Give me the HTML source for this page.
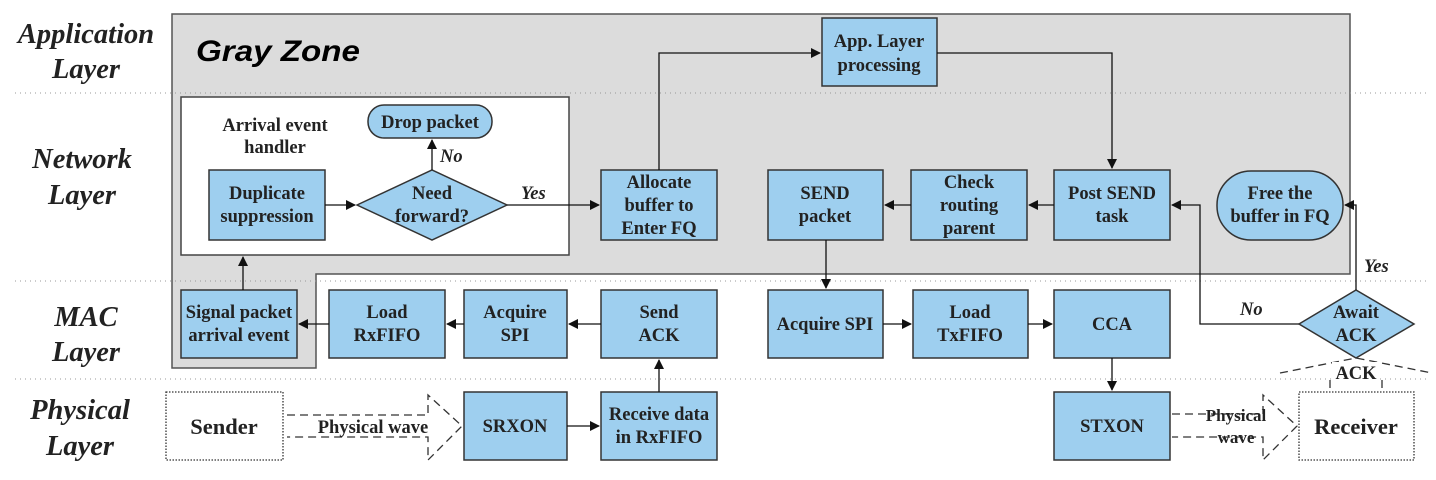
<!DOCTYPE html>
<html><head><meta charset="utf-8"><style>
html,body{margin:0;padding:0;background:#fff}
svg{display:block}
text{font-family:"Liberation Serif",serif;font-weight:bold;fill:#222}
.b{fill:#9ecfef;stroke:#333;stroke-width:1.5}
.l{stroke:#111;stroke-width:1.3;fill:none}
.d{stroke:#333;stroke-width:1.3;fill:none;stroke-dasharray:8 5}
.dot{stroke:#999;stroke-width:1;stroke-dasharray:1 4}
.lay{font-style:italic;font-size:28.5px;font-weight:bold}
.t{font-size:18.5px}
</style></head><body>
<svg width="1436" height="480" viewBox="0 0 1436 480" xmlns="http://www.w3.org/2000/svg">
<defs><marker id="a" markerWidth="10" markerHeight="10" refX="9" refY="5" orient="auto" markerUnits="userSpaceOnUse"><path d="M0,0 L10,5 L0,10 z" fill="#111"/></marker></defs>
<path d="M172,14 H1350 V274 H316 V368 H172 Z" fill="#dcdcdc" stroke="#555" stroke-width="1.5"/>
<line class="dot" x1="15" y1="93" x2="1430" y2="93"/>
<line class="dot" x1="15" y1="281" x2="1430" y2="281"/>
<line class="dot" x1="15" y1="379" x2="1430" y2="379"/>
<g class="lay" text-anchor="middle">
<text x="86" y="43">Application</text><text x="86" y="78">Layer</text>
<text x="82" y="168">Network</text><text x="82" y="204">Layer</text>
<text x="86" y="326">MAC</text><text x="86" y="361">Layer</text>
<text x="80" y="419">Physical</text><text x="80" y="455">Layer</text>
</g>
<text x="196" y="61" textLength="164" lengthAdjust="spacingAndGlyphs" style="font-family:'Liberation Sans',sans-serif;font-style:italic;font-size:30px;font-weight:bold;fill:#000">Gray Zone</text>
<rect x="181" y="97" width="388" height="158" fill="#fff" stroke="#444" stroke-width="1.5"/>
<g class="t" text-anchor="middle">
<text x="275" y="131">Arrival event</text><text x="275" y="153">handler</text>
<rect class="b" x="368" y="105" width="124" height="33" rx="16"/><text x="430" y="128">Drop packet</text>
<rect class="b" x="209" y="170" width="116" height="70"/><text x="267" y="199">Duplicate</text><text x="267" y="222">suppression</text>
<polygon class="b" points="357,205 432,170 507,205 432,240"/><text x="432" y="199">Need</text><text x="432" y="222">forward?</text>
<rect class="b" x="601" y="170" width="116" height="70"/><text x="659" y="188">Allocate</text><text x="659" y="211">buffer to</text><text x="659" y="234">Enter FQ</text>
<rect class="b" x="822" y="18" width="115" height="68"/><text x="879" y="47">App. Layer</text><text x="879" y="71">processing</text>
<rect class="b" x="768" y="170" width="115" height="70"/><text x="825" y="199">SEND</text><text x="825" y="222">packet</text>
<rect class="b" x="911" y="170" width="116" height="70"/><text x="969" y="188">Check</text><text x="969" y="211">routing</text><text x="969" y="234">parent</text>
<rect class="b" x="1054" y="170" width="116" height="70"/><text x="1112" y="199">Post SEND</text><text x="1112" y="222">task</text>
<rect class="b" x="1217" y="171" width="126" height="69" rx="34"/><text x="1280" y="199">Free the</text><text x="1280" y="222">buffer in FQ</text>
<rect class="b" x="181" y="290" width="116" height="68"/><text x="239" y="318">Signal packet</text><text x="239" y="341">arrival event</text>
<rect class="b" x="329" y="290" width="116" height="68"/><text x="387" y="318">Load</text><text x="387" y="341">RxFIFO</text>
<rect class="b" x="464" y="290" width="103" height="68"/><text x="515" y="318">Acquire</text><text x="515" y="341">SPI</text>
<rect class="b" x="601" y="290" width="116" height="68"/><text x="659" y="318">Send</text><text x="659" y="341">ACK</text>
<rect class="b" x="768" y="290" width="115" height="68"/><text x="825" y="330">Acquire SPI</text>
<rect class="b" x="913" y="290" width="115" height="68"/><text x="970" y="318">Load</text><text x="970" y="341">TxFIFO</text>
<rect class="b" x="1054" y="290" width="116" height="68"/><text x="1112" y="330">CCA</text>
<polygon class="b" points="1299,324 1356,290 1414,324 1356,358"/><text x="1356" y="318">Await</text><text x="1356" y="341">ACK</text>
<rect class="b" x="464" y="392" width="103" height="68"/><text x="515" y="432">SRXON</text>
<rect class="b" x="601" y="392" width="116" height="68"/><text x="659" y="420">Receive data</text><text x="659" y="443">in RxFIFO</text>
<rect class="b" x="1054" y="392" width="116" height="68"/><text x="1112" y="432">STXON</text>
</g>
<rect x="166" y="392" width="117" height="68" fill="#fff" stroke="#333" stroke-width="1.3" stroke-dasharray="1.5 1.5"/>
<text x="224" y="434" text-anchor="middle" style="font-size:22.5px">Sender</text>
<rect x="1299" y="392" width="115" height="68" fill="#fff" stroke="#333" stroke-width="1.3" stroke-dasharray="1.5 1.5"/>
<text x="1356" y="434" text-anchor="middle" style="font-size:22.5px">Receiver</text>
<path class="d" d="M287,415 H428 V395 L462,426 L428,460 V437 H287"/>
<text x="373" y="433" text-anchor="middle" class="t">Physical wave</text>
<path class="d" d="M1172,414 H1263 V395 L1297,426 L1263,460 V437 H1172"/>
<text x="1236" y="421" text-anchor="middle" style="font-size:17px">Physical</text>
<text x="1236" y="443" text-anchor="middle" style="font-size:17px">wave</text>
<path class="d" d="M1280,373 L1356,358 L1432,373"/>
<rect x="1332" y="362" width="48" height="20" fill="#fff"/>
<text x="1356" y="379" text-anchor="middle" class="t">ACK</text>
<path class="d" d="M1330,380 V392 M1382,380 V392"/>
<g class="l">
<path d="M325,205 H355" marker-end="url(#a)"/>
<path d="M507,205 H599" marker-end="url(#a)"/>
<path d="M432,170 V140" marker-end="url(#a)"/>
<path d="M659,170 V53 H820" marker-end="url(#a)"/>
<path d="M937,53 H1112 V168" marker-end="url(#a)"/>
<path d="M1054,205 H1029" marker-end="url(#a)"/>
<path d="M911,205 H885" marker-end="url(#a)"/>
<path d="M826,240 V288" marker-end="url(#a)"/>
<path d="M883,324 H911" marker-end="url(#a)"/>
<path d="M1028,324 H1052" marker-end="url(#a)"/>
<path d="M1112,358 V390" marker-end="url(#a)"/>
<path d="M1299,324 H1200 V205 H1172" marker-end="url(#a)"/>
<path d="M1356,290 V205 H1345" marker-end="url(#a)"/>
<path d="M567,426 H599" marker-end="url(#a)"/>
<path d="M659,392 V360" marker-end="url(#a)"/>
<path d="M601,324 H569" marker-end="url(#a)"/>
<path d="M464,324 H447" marker-end="url(#a)"/>
<path d="M329,324 H299" marker-end="url(#a)"/>
<path d="M243,290 V257" marker-end="url(#a)"/>
</g>
<g style="font-style:italic" class="t">
<text x="521" y="199">Yes</text>
<text x="440" y="162">No</text>
<text x="1240" y="315">No</text>
<text x="1364" y="272">Yes</text>
</g>
</svg>
</body></html>
